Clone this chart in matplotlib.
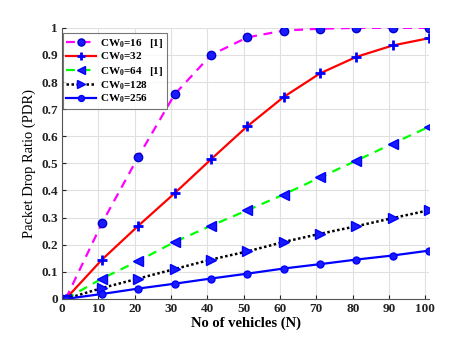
import matplotlib
matplotlib.use("Agg")
import matplotlib.pyplot as plt
import numpy as np

plt.rcParams['font.family'] = ['Liberation Serif', 'DejaVu Serif']
plt.rcParams['font.weight'] = 'bold'
plt.rcParams['mathtext.fontset'] = 'custom'
plt.rcParams['mathtext.rm'] = 'Liberation Serif:bold'
plt.rcParams['mathtext.bf'] = 'Liberation Serif:bold'
plt.rcParams['mathtext.it'] = 'Liberation Serif:bold'

vehicles = [1, 11, 21, 31, 41, 51, 61, 71, 81, 91, 101]
cw16 = [0, 0.28, 0.525, 0.755, 0.90, 0.965, 0.99, 0.997, 1.0, 1.0, 1.0]
cw32 = [0, 0.145, 0.27, 0.39, 0.515, 0.637, 0.745, 0.832, 0.893, 0.935, 0.962]
cw64 = [0, 0.075, 0.14, 0.21, 0.27, 0.327, 0.385, 0.448, 0.51, 0.573, 0.635]
cw128 = [0, 0.04, 0.075, 0.11, 0.145, 0.175, 0.21, 0.24, 0.268, 0.298, 0.327]
cw256 = [0, 0.018, 0.038, 0.056, 0.075, 0.093, 0.112, 0.128, 0.145, 0.16, 0.178]

labels = [r'CW$_{0}$=16   [1]', r'CW$_{0}$=32', r'CW$_{0}$=64   [1]',
          r'CW$_{0}$=128', r'CW$_{0}$=256']
xticks = list(range(0, 101, 10))
yticks = [0, 0.1, 0.2, 0.3, 0.4, 0.5, 0.6, 0.7, 0.8, 0.9, 1.0]
yticklabels = ['0', '0.1', '0.2', '0.3', '0.4', '0.5', '0.6', '0.7', '0.8', '0.9', '1']

fig = plt.figure(figsize=(4.74, 3.40), dpi=100)
ax = fig.add_axes([0.131, 0.121, 0.774, 0.797])

mb = '#1a1aff'
ax.plot(vehicles, cw16, linestyle=(0, (4, 3)), color='#ff00ff', lw=1.6,
        marker='o', ms=6, mfc=mb, mec='#0000cc', label=labels[0])
ax.plot(vehicles, cw32, linestyle='-', color='#ff0000', lw=1.6,
        marker='+', ms=7, mew=2, mec='#0000ff', label=labels[1])
ax.plot(vehicles, cw64, linestyle=(0, (4, 3)), color='#00ff00', lw=1.6,
        marker='<', ms=7, mfc=mb, mec='#0000ff', label=labels[2])
ax.plot(vehicles, cw128, linestyle=(0, (1, 1)), color='black', lw=1.8,
        marker='>', ms=7, mfc=mb, mec='#0000ff', label=labels[3])
ax.plot(vehicles, cw256, linestyle='-', color='#0000ff', lw=1.6,
        marker='o', ms=5, mfc=mb, mec='#0000ff', label=labels[4])

ax.set_xlim(0, 101)
ax.set_ylim(0, 1)
ax.set_xticks(xticks)
ax.set_yticks(yticks)
ax.set_yticklabels(yticklabels)
ax.grid(True, color='#e0e0e0', lw=0.8)
ax.set_axisbelow(True)
for s in ['top', 'right']:
    ax.spines[s].set_visible(False)
for s in ['left', 'bottom']:
    ax.spines[s].set_color('#555555')
ax.tick_params(direction='in', length=3, labelsize=9.5, colors='#222222', pad=3)
for lab in ax.get_xticklabels() + ax.get_yticklabels():
    lab.set_fontweight('bold')

ax.set_xlabel('No of vehicles (N)', fontsize=10.5, fontweight='bold', labelpad=1)
ax.set_ylabel('Packet Drop Ratio (PDR)', fontsize=10.5, fontweight='normal', labelpad=4)

leg = ax.legend(loc='upper left', bbox_to_anchor=(0.0, 0.982), fontsize=8,
                frameon=True, fancybox=False, edgecolor='#555555',
                handlelength=2.7, labelspacing=0.12, borderpad=0.3,
                handletextpad=0.4, borderaxespad=0.05, markerscale=0.85)
leg.get_frame().set_linewidth(0.8)

fig.savefig('out.png', dpi=100)
